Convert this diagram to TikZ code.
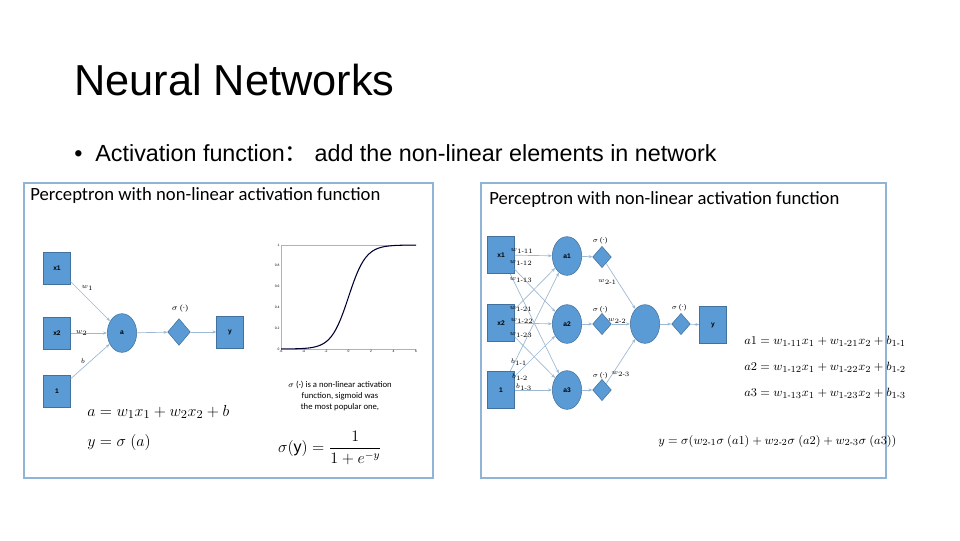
\documentclass[tikz,border=0pt]{standalone}
\usepackage{amsmath}
\usepackage{fontspec}
\setmainfont{Liberation Sans}
\newfontfamily\serifm{Liberation Serif}
\newfontfamily\cjk{Noto Sans CJK SC}
\newfontfamily\carl{Carlito}
\usetikzlibrary{shapes.geometric,arrows.meta}
\definecolor{nblue}{HTML}{5B9BD5}
\definecolor{nedge}{HTML}{41719C}
\definecolor{pframe}{HTML}{8FB4D6}
\definecolor{lnk}{HTML}{9DB8D2}
\tikzset{
 sq/.style={draw=nedge,fill=nblue,minimum width=20pt,minimum height=24pt,inner sep=0pt,font=\bfseries\tiny},
 nrn/.style={draw=nedge,fill=nblue,ellipse,minimum width=22pt,minimum height=29pt,inner sep=0pt,font=\bfseries\tiny},
 dia/.style={draw=nedge,fill=nblue,diamond,minimum width=17pt,minimum height=20pt,inner sep=0pt},
 lk/.style={draw=lnk,line width=0.5pt,-{Stealth[length=3pt]}},
 wl/.style={font=\serifm\fontsize{5}{5}\selectfont,inner sep=0.5pt},
 eq/.style={font=\serifm\fontsize{13}{13}\selectfont,anchor=west,inner sep=0pt},
 ptitle/.style={font=\carl\fontsize{14}{14}\selectfont,anchor=west,inner sep=0pt},
 frame/.style={draw=pframe,line width=0.8pt}
}
\begin{document}
\begin{tikzpicture}[x=0.75pt,y=-0.75pt]
\useasboundingbox (0,0) rectangle (960,540);
\fill[white] (0,0) rectangle (960,540);
\node[anchor=west,inner sep=0pt,font=\fontsize{32.5}{32.5}\selectfont] (title) at (74,80) {Neural Networks};
\node[anchor=west,inner sep=0pt,font=\fontsize{17.5}{17.5}\selectfont] (bul) at (74,153) {\textbullet\ \ Activation function{\cjk ：} add the non-linear elements in network};
% left panel
\draw[frame] (24,183) rectangle (433,478);
\node[ptitle] (lt) at (30,196) {Perceptron with non-linear activation function};
\node[sq] (lx1) at (57,268) {x1};
\node[sq] (lx2) at (57,333) {x2};
\node[sq] (l1) at (57,391) {1};
\node[nrn] (la) at (122,333) {a};
\node[dia] (ld) at (179,332) {};
\node[sq] (ly) at (230,332) {y};
\draw[lk] (lx1) -- node[wl,pos=0.25,above right]{$w_1$} (la);
\draw[lk] (lx2) -- node[wl,pos=0.3]{$w_2$} (la);
\draw[lk] (l1) -- node[wl,pos=0.4,above left]{$b$} (la);
\draw[lk] (la) -- (ld);
\draw[lk] (ld) -- (ly);
\node[wl,font=\serifm\fontsize{6}{6}\selectfont] (lsig) at (180,309) {$\sigma$ (·)};
% sigmoid plot
\draw[gray!60,line width=0.4pt] (281,245) -- (416,245);
\draw[gray!60,line width=0.4pt] (281,245) -- (281,349) -- (416,349);
\draw[black!80!blue,line width=0.8pt,domain=-6:6,samples=60] plot ({281+(\x+6)*135/12},{349-104/(1+exp(-1.3*\x))});
\foreach \v/\t in {0/0,0.2/0.2,0.4/0.4,0.6/0.6,0.8/0.8,1/1}
 \node[font=\fontsize{2.5}{2.5}\selectfont,anchor=east,inner sep=1pt] at (281,{349-104*\v}) {\t};
\foreach \v in {-6,-4,-2,0,2,4,6}
 \node[font=\fontsize{2.5}{2.5}\selectfont,anchor=north,inner sep=1pt] at ({281+(\v+6)*135/12},349) {\v};
\node[font=\carl\fontsize{6.5}{8}\selectfont,align=center,inner sep=0pt] (ltxt) at (340,396) {$\sigma$ (·) is a non-linear activation\\ function, sigmoid was\\ the most popular one,};
\node[inner sep=0pt,font=\serifm\fontsize{12}{12}\selectfont] (lf) at (330,448) {$\sigma(\mathrm{y})=\dfrac{1}{1+e^{-y}}$};
\node[eq] (le1) at (87,412) {$a=w_1x_1+w_2x_2+b$};
\node[eq] (le2) at (87,442) {$y=\sigma\ (a)$};
% right panel
\draw[frame] (481,183) rectangle (886,478);
\node[ptitle] (rt) at (489,200) {Perceptron with non-linear activation function};
\node[sq,minimum height=28pt] (rx1) at (501,255) {x1};
\node[sq,minimum height=28pt] (rx2) at (501,323) {x2};
\node[sq,minimum height=28pt] (r1) at (501,390) {1};
\node[nrn] (a1) at (567,256) {a1};
\node[nrn] (a2) at (567,324) {a2};
\node[nrn] (a3) at (567,390) {a3};
\node[dia,minimum width=14pt,minimum height=16pt] (d1) at (602,257) {};
\node[dia,minimum width=14pt,minimum height=16pt] (d2) at (602,324) {};
\node[dia,minimum width=14pt,minimum height=16pt] (d3) at (602,390) {};
\node[nrn] (ho) at (645,324) {};
\node[dia,minimum width=14pt,minimum height=16pt] (d4) at (681,324) {};
\node[sq,minimum height=28pt] (ry) at (713,325) {y};
\foreach \s in {rx1,rx2,r1}{\foreach \t in {a1,a2,a3}{\draw[lk] (\s) -- (\t);}}
\draw[lk] (a1)--(d1); \draw[lk] (a2)--(d2); \draw[lk] (a3)--(d3);
\draw[lk] (d1) -- node[wl,pos=0.4,left]{$w_{2\text{-}1}$} (ho);
\draw[lk] (d2) -- node[wl,pos=0.3,above]{$w_{2\text{-}2}$} (ho);
\draw[lk] (d3) -- node[wl,pos=0.15,above right]{$w_{2\text{-}3}$} (ho);
\draw[lk] (ho)--(d4); \draw[lk] (d4)--(ry);
\node[wl] at (522,251) {$w_{1\text{-}11}$};
\node[wl] at (521,263) {$w_{1\text{-}12}$};
\node[wl] at (521,280) {$w_{1\text{-}13}$};
\node[wl] at (521,309) {$w_{1\text{-}21}$};
\node[wl] at (522,321) {$w_{1\text{-}22}$};
\node[wl] at (521,335) {$w_{1\text{-}23}$};
\node[wl] at (519,362) {$b_{1\text{-}1}$};
\node[wl] at (520,377) {$b_{1\text{-}2}$};
\node[wl] at (524,387) {$b_{1\text{-}3}$};
\node[wl,font=\serifm\fontsize{5.5}{5.5}\selectfont] at (600,241) {$\sigma$ (·)};
\node[wl,font=\serifm\fontsize{5.5}{5.5}\selectfont] at (600,310) {$\sigma$ (·)};
\node[wl,font=\serifm\fontsize{5.5}{5.5}\selectfont] at (600,376) {$\sigma$ (·)};
\node[wl,font=\serifm\fontsize{5.5}{5.5}\selectfont] at (679,308) {$\sigma$ (·)};
\node[eq,font=\serifm\fontsize{9.5}{9.5}\selectfont] (re1) at (744,341) {$a1=w_{1\text{-}11}x_1+w_{1\text{-}21}x_2+b_{1\text{-}1}$};
\node[eq,font=\serifm\fontsize{9.5}{9.5}\selectfont] (re2) at (744,367) {$a2=w_{1\text{-}12}x_1+w_{1\text{-}22}x_2+b_{1\text{-}2}$};
\node[eq,font=\serifm\fontsize{9.5}{9.5}\selectfont] (re3) at (744,393) {$a3=w_{1\text{-}13}x_1+w_{1\text{-}23}x_2+b_{1\text{-}3}$};
\node[eq,font=\serifm\fontsize{9.5}{9.5}\selectfont] (re4) at (658,441) {$y=\sigma(w_{2\text{-}1}\sigma\ (a1)+w_{2\text{-}2}\sigma\ (a2)+w_{2\text{-}3}\sigma\ (a3))$};
\end{tikzpicture}
\end{document}
